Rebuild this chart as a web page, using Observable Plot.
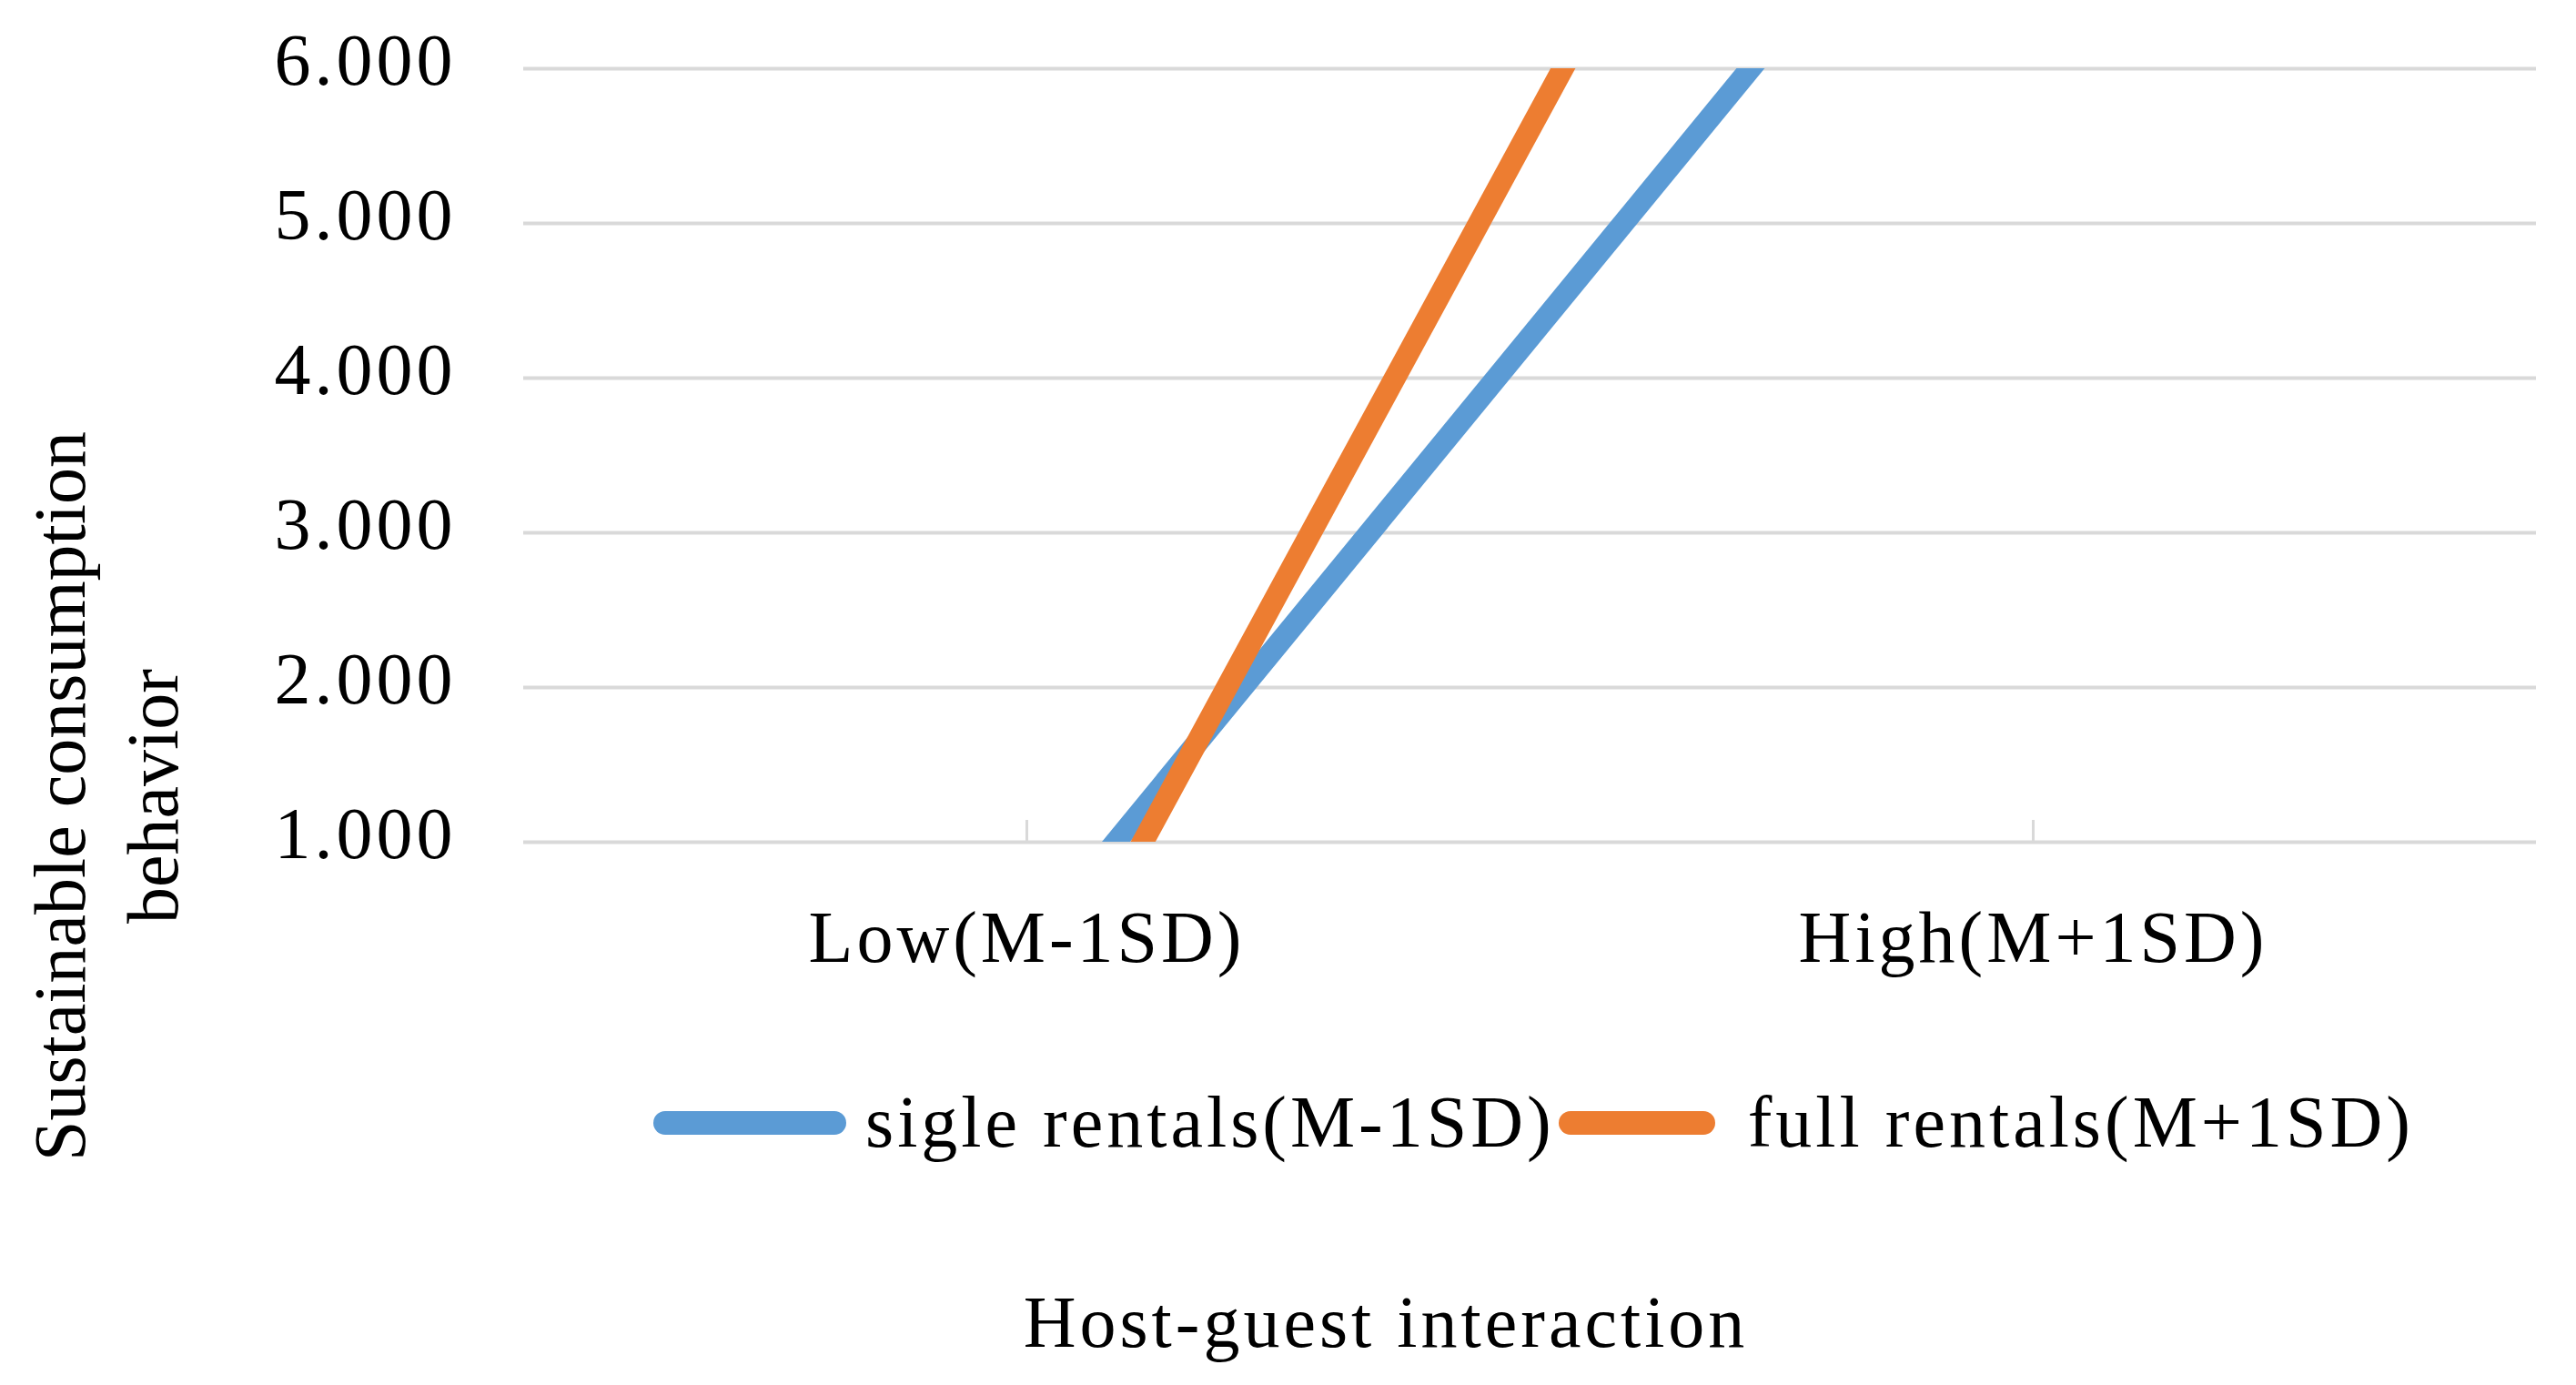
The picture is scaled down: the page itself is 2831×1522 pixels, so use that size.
<!DOCTYPE html>
<html>
<head>
<meta charset="utf-8">
<script src="https://cdn.jsdelivr.net/npm/d3@7"></script>
<script src="https://cdn.jsdelivr.net/npm/@observablehq/plot@0.6"></script>
<style>
  html, body { margin: 0; padding: 0; background: #fff; }
  #wrap { position: relative; width: 2831px; height: 1522px; overflow: hidden;
          font-family: "Liberation Serif", "Times New Roman", serif; color: #000; }
  #chart { position: absolute; left: 0; top: 0; }
  #ylabel { position: absolute; left: 117px; top: 875px; width: 900px;
            transform: translate(-50%, -50%) rotate(-90deg);
            text-align: center; font-size: 80px; line-height: 102px; white-space: pre; }
  #legend { position: absolute; left: 718px; top: 1188px; display: flex; align-items: center;
            font-size: 80px; letter-spacing: 4px; white-space: pre; }
  .sw { display: inline-block; height: 26px; border-radius: 13px; }
  #xlabel { position: absolute; left: 1023px; top: 1408px; width: 1000px; text-align: center;
            font-size: 80px; letter-spacing: 4px; white-space: pre; }
</style>
</head>
<body>
<div id="wrap">
  <div id="chart"></div>
  <div id="ylabel"></div>
  <div id="legend"></div>
  <div id="xlabel"></div>
</div>
<script>
// ---- data ----
const categories = ["Low(M-1SD)", "High(M+1SD)"];
const seriesNames = ["sigle rentals(M-1SD)", "full rentals(M+1SD)"];
const singleValues = [0.30, 8.23];
const fullValues = [-0.38, 11.60];
const yTicks = [1, 2, 3, 4, 5, 6];
const seriesColors = ["#5b9bd5", "#ed7d31"];
const yTitle = "Sustainable consumption\nbehavior";
const xTitle = "Host-guest interaction";

const rows = [
  ...categories.map((c, i) => ({category: c, series: seriesNames[0], value: singleValues[i]})),
  ...categories.map((c, i) => ({category: c, series: seriesNames[1], value: fullValues[i]}))
];

const plot = Plot.plot({
  width: 2831,
  height: 1110,
  marginLeft: 575,
  marginRight: 44,
  marginTop: 75,
  marginBottom: 185,
  style: {fontFamily: '"Liberation Serif", "Times New Roman", serif', fontSize: "80px", letterSpacing: "4px", color: "#000", background: "#fff"},
  x: {type: "point", domain: categories, padding: 0.5},
  y: {domain: [1, 6]},
  color: {domain: seriesNames, range: seriesColors},
  marks: [
    Plot.gridY(yTicks, {stroke: "#d9d9d9", strokeOpacity: 1, strokeWidth: 4}),
    Plot.ruleX(categories, {x: d => d, insetTop: 826, stroke: "#d9d9d9", strokeWidth: 3}),
    Plot.axisY(yTicks, {tickSize: 0, tickPadding: 74, dy: -8, tickFormat: d3.format(".3f"), label: null, fill: "#000"}),
    Plot.axisX({tickSize: 0, tickPadding: 75, label: null, fill: "#000"}),
    Plot.line(rows, {x: "category", y: "value", z: "series", stroke: "series", strokeWidth: 24, strokeLinecap: "butt", clip: true})
  ]
});
document.getElementById("chart").appendChild(plot);

document.getElementById("ylabel").textContent = yTitle;
document.getElementById("xlabel").textContent = xTitle;

const legend = document.getElementById("legend");
const swWidths = [212, 172];
const swMargins = [[0, 21], [4, 36]];
seriesNames.forEach((name, i) => {
  const sw = document.createElement("span");
  sw.className = "sw";
  sw.style.width = swWidths[i] + "px";
  sw.style.background = seriesColors[i];
  sw.style.marginLeft = swMargins[i][0] + "px";
  sw.style.marginRight = swMargins[i][1] + "px";
  const t = document.createElement("span");
  t.textContent = name;
  legend.appendChild(sw);
  legend.appendChild(t);
});
</script>
</body>
</html>
